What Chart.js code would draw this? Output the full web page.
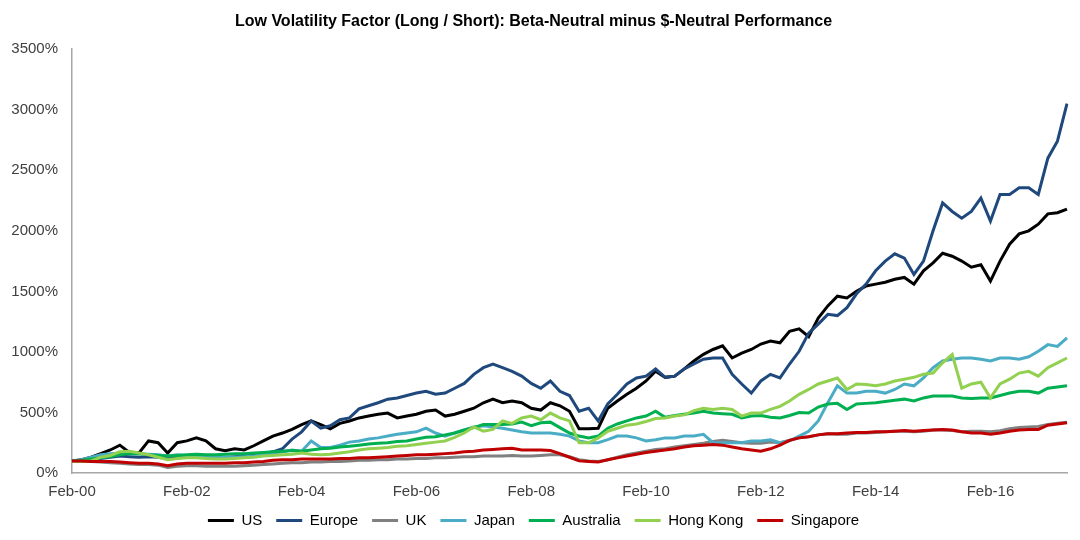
<!DOCTYPE html>
<html>
<head>
<meta charset="utf-8">
<title>Low Volatility Factor (Long / Short)</title>
<script src="https://cdn.jsdelivr.net/npm/chart.js@4.4.1/dist/chart.umd.min.js"></script>
<style>
    html, body { margin: 0; padding: 0; background: #ffffff; }
    #wrap { width: 1080px; height: 540px; }
</style>
</head>
<body>
<div id="wrap"><canvas id="lowVolChart" width="1080" height="540"></canvas></div>
<script>
// Values, one point every two months (Feb-00 .. Jun-17)
const startYear = 2000;
const startMonth = 1; // Feb
const stepMonths = 2;
const monthNames = ['Jan', 'Feb', 'Mar', 'Apr', 'May', 'Jun', 'Jul', 'Aug', 'Sep', 'Oct', 'Nov', 'Dec'];

// Only these categories get a label on the x axis
const tickLabels = ['Feb-00', 'Feb-02', 'Feb-04', 'Feb-06', 'Feb-08', 'Feb-10', 'Feb-12', 'Feb-14', 'Feb-16'];

const seriesNames = ['US', 'Europe', 'UK', 'Japan', 'Australia', 'Hong Kong', 'Singapore'];
const seriesColors = ['#000000', '#1f497d', '#808080', '#4bacc6', '#00b050', '#92d050', '#c00000'];

// one row = two years
const usValues = [
    100, 110, 130, 160, 190, 230, 170, 165, 265, 250, 165, 250,
    265, 290, 265, 200, 185, 200, 190, 225, 265, 305, 330, 360,
    400, 430, 400, 365, 410, 430, 455, 470, 485, 495, 455, 470,
    485, 510, 520, 470, 485, 510, 535, 580, 610, 580, 595, 580,
    535, 520, 580, 555, 510, 365, 365, 370, 535, 595, 650, 700,
    760, 840, 790, 800, 860, 925, 980, 1020, 1050, 950, 990, 1020,
    1065, 1090, 1075, 1170, 1190, 1125, 1280, 1380, 1460, 1445, 1500, 1545,
    1560, 1575, 1600, 1615, 1560, 1670, 1735, 1815, 1790, 1750, 1700, 1720,
    1585, 1750, 1890, 1975, 2000, 2055, 2140, 2150, 2180
];
const europeValues = [
    100, 105, 110, 120, 130, 140, 135, 130, 135, 130, 120, 125,
    130, 135, 130, 125, 130, 135, 140, 150, 160, 175, 200, 280,
    340, 430, 370, 390, 440, 455, 530, 555, 580, 610, 620, 640,
    660, 675, 650, 660, 700, 740, 815, 870, 900, 870, 840, 800,
    740, 700, 760, 675, 640, 510, 535, 430, 570, 650, 735, 785,
    800, 860, 790, 800, 860, 900, 940, 950, 950, 815, 735, 660,
    760, 815, 785, 900, 1005, 1155, 1230, 1310, 1300, 1365, 1480, 1560,
    1670, 1750, 1810, 1775, 1640, 1750, 2000, 2230, 2160, 2105, 2160, 2270,
    2080, 2300, 2300, 2355, 2355, 2300, 2600, 2740, 3050
];
const ukValues = [
    100, 100, 95, 90, 85, 80, 75, 70, 70, 65, 45, 55,
    60, 60, 55, 55, 55, 55, 60, 65, 70, 75, 80, 85,
    85, 90, 90, 95, 95, 100, 105, 105, 110, 110, 115, 115,
    120, 120, 125, 125, 130, 135, 135, 140, 140, 140, 145, 140,
    140, 145, 150, 150, 135, 110, 100, 95, 110, 130, 150, 165,
    180, 195, 200, 215, 225, 235, 245, 260, 270, 260, 250, 245,
    245, 255, 250, 270, 290, 300, 315, 325, 320, 320, 330, 330,
    335, 340, 345, 345, 340, 345, 355, 355, 350, 340, 345, 345,
    340, 350, 365, 375, 380, 385, 400, 410, 420
];
const japanValues = [
    100, 110, 130, 150, 160, 165, 160, 160, 155, 150, 140, 150,
    145, 140, 140, 135, 130, 130, 135, 140, 150, 160, 175, 190,
    180, 265, 210, 210, 230, 255, 265, 280, 290, 305, 320, 330,
    340, 370, 330, 305, 330, 355, 380, 390, 380, 370, 355, 340,
    330, 330, 330, 320, 305, 265, 250, 250, 275, 305, 305, 290,
    265, 275, 290, 290, 305, 305, 320, 250, 250, 250, 250, 265,
    265, 275, 250, 265, 305, 345, 430, 580, 720, 660, 660, 675,
    675, 660, 690, 735, 720, 785, 870, 925, 940, 950, 950, 940,
    925, 950, 950, 940, 960, 1005, 1060, 1045, 1115
];
const australiaValues = [
    100, 105, 115, 125, 135, 150, 160, 160, 150, 145, 140, 145,
    150, 155, 150, 150, 155, 160, 160, 165, 170, 175, 180, 185,
    180, 190, 200, 205, 215, 220, 230, 240, 245, 250, 260, 265,
    280, 295, 300, 315, 330, 355, 375, 400, 400, 400, 405, 420,
    390, 415, 420, 375, 330, 305, 290, 305, 370, 405, 430, 455,
    470, 510, 460, 475, 485, 495, 510, 495, 490, 485, 455, 470,
    475, 460, 455, 475, 500, 495, 545, 570, 575, 525, 570, 575,
    580, 590, 600, 610, 595, 620, 635, 635, 635, 620, 615, 620,
    620, 640, 660, 675, 675, 660, 700, 710, 720
];
const hongKongValues = [
    95, 95, 100, 130, 145, 175, 180, 165, 150, 130, 110, 120,
    125, 125, 120, 115, 115, 120, 125, 130, 140, 145, 150, 155,
    165, 155, 150, 155, 165, 175, 190, 200, 205, 210, 220, 225,
    235, 245, 255, 265, 295, 330, 380, 345, 360, 430, 410, 455,
    470, 440, 495, 455, 430, 250, 250, 290, 345, 370, 395, 405,
    425, 450, 455, 470, 480, 515, 535, 525, 535, 525, 470, 495,
    495, 525, 550, 595, 650, 690, 735, 760, 785, 690, 735, 730,
    720, 735, 760, 775, 790, 815, 825, 910, 980, 700, 735, 750,
    620, 735, 775, 825, 840, 800, 870, 910, 950
];
const singaporeValues = [
    100, 100, 95, 95, 95, 90, 85, 80, 80, 75, 60, 75,
    80, 80, 80, 80, 80, 85, 85, 90, 95, 105, 110, 110,
    115, 115, 115, 115, 120, 120, 125, 125, 130, 135, 140, 145,
    150, 150, 155, 160, 165, 175, 180, 190, 195, 200, 205, 190,
    190, 190, 185, 160, 130, 100, 95, 90, 110, 125, 140, 155,
    170, 180, 190, 200, 215, 225, 230, 235, 230, 215, 200, 190,
    180, 200, 230, 270, 290, 300, 315, 325, 325, 330, 335, 335,
    340, 340, 345, 350, 345, 350, 355, 360, 355, 340, 330, 330,
    320, 330, 345, 355, 360, 360, 395, 405, 415
];

const seriesValues = [usValues, europeValues, ukValues, japanValues, australiaValues, hongKongValues, singaporeValues];

const fontFamily = "'Liberation Sans', Arial, sans-serif";

/**
 * Build "Mmm-YY" labels, one per data point
 */
function buildCategories(count) {
    const labels = [];
    for (let i = 0; i < count; i++) {
        const total = startMonth + i * stepMonths;
        const year = startYear + Math.floor(total / 12);
        labels.push(monthNames[total % 12] + '-' + String(year).slice(2));
    }
    return labels;
}

const categories = buildCategories(usValues.length);

// Singapore is drawn on top, like the Excel original
const datasets = seriesNames.map((name, i) => ({
    label: name,
    data: seriesValues[i],
    borderColor: seriesColors[i],
    backgroundColor: seriesColors[i],
    borderWidth: 3,
    pointRadius: 0,
    pointHoverRadius: 0,
    tension: 0,
    fill: false,
    order: seriesNames.length - 1 - i
}));

const axisBorder = {
    display: true,
    color: '#a6a6a6',
    width: 1.5
};

new Chart(document.getElementById('lowVolChart'), {
    type: 'line',
    data: {
        labels: categories,
        datasets: datasets
    },
    options: {
        responsive: false,
        animation: false,
        devicePixelRatio: 1,
        layout: {
            padding: { left: 0, right: 13, top: 10, bottom: 2 }
        },
        plugins: {
            title: {
                display: true,
                text: 'Low Volatility Factor (Long / Short): Beta-Neutral minus $-Neutral Performance',
                color: '#000000',
                font: { family: fontFamily, size: 16, weight: 'bold' },
                padding: { top: 2, bottom: 18 }
            },
            legend: {
                position: 'bottom',
                reverse: true,
                labels: {
                    usePointStyle: true,
                    pointStyle: 'line',
                    pointStyleWidth: 26,
                    color: '#000000',
                    padding: 14,
                    font: { family: fontFamily, size: 15 }
                }
            },
            tooltip: { enabled: false }
        },
        scales: {
            x: {
                type: 'category',
                offset: false,
                grid: { display: false, drawTicks: false },
                border: axisBorder,
                ticks: {
                    autoSkip: false,
                    maxRotation: 0,
                    minRotation: 0,
                    padding: 10,
                    color: '#404040',
                    font: { family: fontFamily, size: 15 },
                    callback: function (value) {
                        const label = this.getLabelForValue(value);
                        return tickLabels.includes(label) ? label : '';
                    }
                },
                afterFit: function (scale) {
                    scale.height = 26;
                }
            },
            y: {
                min: 0,
                max: 3500,
                grid: { display: false, drawTicks: false },
                border: axisBorder,
                ticks: {
                    stepSize: 500,
                    padding: 14,
                    color: '#404040',
                    font: { family: fontFamily, size: 15 },
                    callback: value => value + '%'
                },
                afterFit: function (scale) {
                    scale.width = 72;
                }
            }
        }
    }
});
</script>
</body>
</html>
